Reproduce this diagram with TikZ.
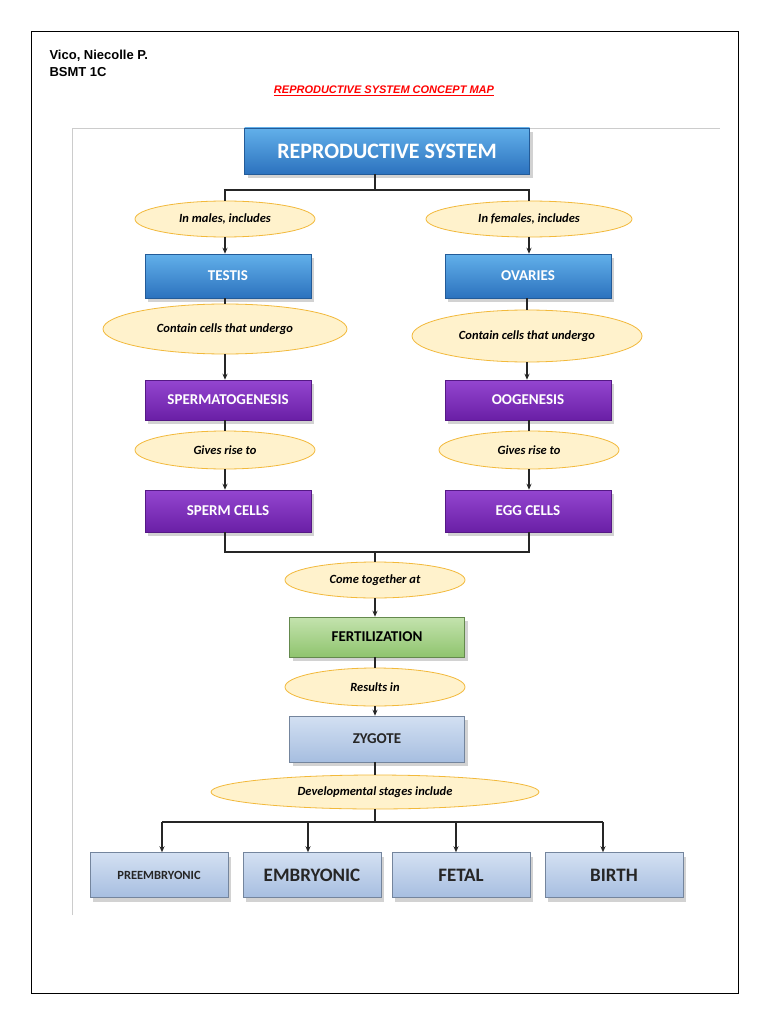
\documentclass[tikz,border=0pt]{standalone}
\usepackage{fontspec}
\setmainfont{Carlito}
\newfontfamily\arial{Liberation Sans}
\usetikzlibrary{shapes.geometric,shadows,arrows.meta}
\begin{document}
\begin{tikzpicture}[x=1pt,y=-1pt,
  box/.style={draw=#1, line width=0.5pt, drop shadow={shadow xshift=3pt,shadow yshift=-4pt,opacity=0.35}},
  bluebox/.style={box=blue2!80!black, top color=blue1, bottom color=blue2, text=white, font=\bfseries\fontsize{15}{17}\selectfont},
  purplebox/.style={box=pur2!80!black, top color=pur1, bottom color=pur2, text=white, font=\bfseries\fontsize{15}{17}\selectfont},
  greenbox/.style={box=grn2!70!black, top color=grn1, bottom color=grn2, text=black, font=\bfseries\fontsize{15}{17}\selectfont},
  lbbox/.style={box=lb2!70!black, top color=lb1, bottom color=lb2, text=black!85, font=\bfseries\fontsize{15}{17}\selectfont},
  ell/.style={ellipse, draw=ellb, fill=ellf, line width=0.8pt, inner sep=0pt, font=\itshape\bfseries\fontsize{12.5}{14}\selectfont},
  conn/.style={line width=1.6pt, black!85},
  arr/.style={conn, -{Stealth[length=6pt,width=5pt]}}]
\definecolor{blue1}{HTML}{62B0EA}\definecolor{blue2}{HTML}{2C72BE}
\definecolor{pur1}{HTML}{9446D0}\definecolor{pur2}{HTML}{6A1FA6}
\definecolor{grn1}{HTML}{C4E3AE}\definecolor{grn2}{HTML}{8FC46E}
\definecolor{lb1}{HTML}{D3E0F2}\definecolor{lb2}{HTML}{A6BEE0}
\definecolor{ellf}{HTML}{FFF2CC}\definecolor{ellb}{HTML}{F2B93B}
\useasboundingbox (0,0) rectangle (768,1024);
\fill[white] (0,0) rectangle (768,1024);
\draw[line width=0.8pt] (31,31) rectangle (738,993);
\node[anchor=west, font=\arial\bfseries\fontsize{13}{15}\selectfont] (n1) at (46,56) {Vico, Niecolle P.};
\node[anchor=west, font=\arial\bfseries\fontsize{13}{15}\selectfont] (n2) at (46,72) {BSMT 1C};
\node[text=red, font=\arial\bfseries\itshape\fontsize{11}{13}\selectfont] (title) at (384,91) {\underline{REPRODUCTIVE SYSTEM CONCEPT MAP}};
\draw[black!20, line width=0.8pt] (72,915) -- (72,128) -- (720,128);
% boxes
\node[bluebox, minimum width=285, minimum height=46, font=\bfseries\fontsize{22}{25}\selectfont] (rs) at (387,151) {REPRODUCTIVE SYSTEM};
\node[ell, minimum width=180, minimum height=36] (em) at (225,219) {In males, includes};
\node[ell, minimum width=206, minimum height=36] (ef) at (529,219) {In females, includes};
\node[bluebox, minimum width=166, minimum height=44] (testis) at (228,276) {TESTIS};
\node[bluebox, minimum width=166, minimum height=44] (ovaries) at (528,276) {OVARIES};
\node[ell, minimum width=244, minimum height=50] (cm) at (225,329) {Contain cells that undergo};
\node[ell, minimum width=230, minimum height=52] (cf) at (527,336) {Contain cells that undergo};
\node[purplebox, minimum width=166, minimum height=40] (sg) at (228,400) {SPERMATOGENESIS};
\node[purplebox, minimum width=166, minimum height=40] (og) at (528,400) {OOGENESIS};
\node[ell, minimum width=180, minimum height=38] (gm) at (225,450) {Gives rise to};
\node[ell, minimum width=180, minimum height=38] (gf) at (529,450) {Gives rise to};
\node[purplebox, minimum width=166, minimum height=42] (sc) at (228,511) {SPERM CELLS};
\node[purplebox, minimum width=166, minimum height=42] (ec) at (528,511) {EGG CELLS};
\node[ell, minimum width=180, minimum height=36] (ct) at (375,580) {Come together at};
\node[greenbox, minimum width=175, minimum height=40] (fert) at (377,637) {FERTILIZATION};
\node[ell, minimum width=180, minimum height=38] (ri) at (375,687) {Results in};
\node[lbbox, minimum width=175, minimum height=46] (zyg) at (377,739) {ZYGOTE};
\node[ell, minimum width=328, minimum height=34] (dev) at (375,792) {Developmental stages include};
\node[lbbox, minimum width=138, minimum height=45, font=\bfseries\fontsize{12.5}{14}\selectfont] (pre) at (159,875) {PREEMBRYONIC};
\node[lbbox, minimum width=138, minimum height=45, font=\bfseries\fontsize{19}{21}\selectfont] (emb) at (312,875) {EMBRYONIC};
\node[lbbox, minimum width=138, minimum height=45, font=\bfseries\fontsize{19}{21}\selectfont] (fet) at (461,875) {FETAL};
\node[lbbox, minimum width=138, minimum height=45, font=\bfseries\fontsize{19}{21}\selectfont] (bir) at (614,875) {BIRTH};
% connectors
\coordinate (j1) at (375,190);
\draw[conn] (rs.south -| j1) -- (j1);
\draw[conn] (em.north) |- (j1) -| (ef.north);
\draw[arr] (em.south) -- (em.south |- testis.north);
\draw[arr] (ef.south) -- (ef.south |- ovaries.north);
\draw[conn] (testis.south -| cm.north) -- (cm.north);
\draw[conn] (ovaries.south -| cf.north) -- (cf.north);
\draw[arr] (cm.south) -- (cm.south |- sg.north);
\draw[arr] (cf.south) -- (cf.south |- og.north);
\draw[conn] (sg.south -| gm.north) -- (gm.north);
\draw[conn] (og.south -| gf.north) -- (gf.north);
\draw[arr] (gm.south) -- (gm.south |- sc.north);
\draw[arr] (gf.south) -- (gf.south |- ec.north);
\coordinate (j2) at (375,552);
\draw[conn] (sc.south -| gm.south) |- (j2) -| (ec.south -| gf.south);
\draw[conn] (j2) -- (ct.north);
\draw[arr] (ct.south) -- (ct.south |- fert.north);
\draw[conn] (fert.south -| ri.north) -- (ri.north);
\draw[arr] (ri.south) -- (ri.south |- zyg.north);
\draw[conn] (zyg.south -| dev.north) -- (dev.north);
\coordinate (j3) at (375,822);
\coordinate (a1) at (162,822);\coordinate (a2) at (308,822);\coordinate (a3) at (456,822);\coordinate (a4) at (603,822);
\draw[conn] (dev.south) -- (j3);
\draw[conn] (a1) -- (a4);
\draw[arr] (a1) -- (a1 |- pre.north);
\draw[arr] (a2) -- (a2 |- emb.north);
\draw[arr] (a3) -- (a3 |- fet.north);
\draw[arr] (a4) -- (a4 |- bir.north);
\end{tikzpicture}
\end{document}
